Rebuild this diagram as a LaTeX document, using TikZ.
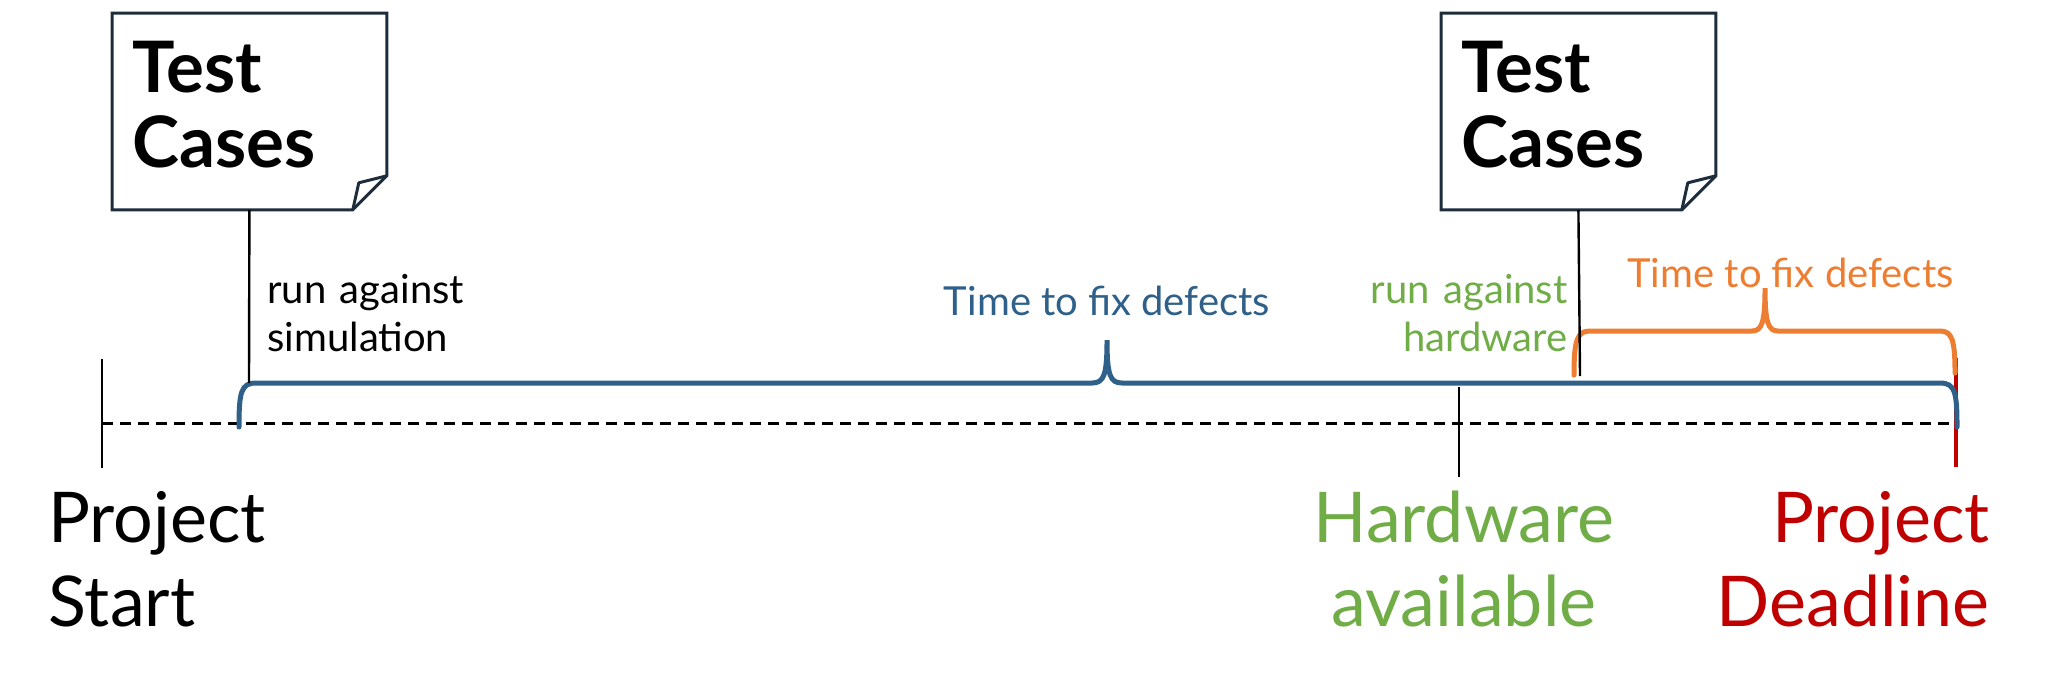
\documentclass[tikz,border=0pt]{standalone}
\usepackage{fontspec}
\setmainfont{Lato}
\usetikzlibrary{calc}
\usetikzlibrary{positioning}

\definecolor{fixblue}{HTML}{2E6089}
\definecolor{hwgreen}{HTML}{70AD47}
\definecolor{fixorange}{HTML}{ED7D31}
\definecolor{deadred}{HTML}{C00000}
\definecolor{noteline}{HTML}{1E2D3C}

\tikzset{
  note/.style={minimum width=137pt, minimum height=98pt, inner xsep=10pt, inner ysep=0pt,
    text width=117pt, align=left, text depth=45pt,
    font=\fontsize{35.5}{37.5}\selectfont\bfseries},
  biglabel/.style={inner sep=0pt, text width=180pt, font=\fontsize{35}{42}\selectfont},
  smalllabel/.style={inner sep=0pt, font=\fontsize{20}{24}\selectfont},
  tick/.style={line width=1.3pt},
  link/.style={line width=1.2pt},
  bracepath/.style={line width=2.5pt, line cap=round},
}

\begin{document}
\begin{tikzpicture}[x=0.5pt, y=-0.5pt]
  \useasboundingbox (0,0) rectangle (2048,692);

  % time line
  \coordinate (start) at (102,423);
  \coordinate (deadline) at (1956,423);
  \draw[line width=1.5pt, dash pattern=on 5.5pt off 3.5pt] (start) -- (deadline);
  \draw[tick] ($(start)+(0,-64)$) -- ($(start)+(0,45)$);
  \coordinate (hwtop) at (1459,387);
  \coordinate (hwbot) at (1459,477);
  \draw[tick] (hwtop) -- (hwbot);
  \draw[deadred, line width=2.4pt] ($(deadline)+(0,-65)$) -- ($(deadline)+(0,44)$);

  % test case notes
  \node[note, anchor=north west] (tc1) at (112,13) {Test\\Cases};
  \node[note, anchor=north west] (tc2) at (1441,13) {Test\\Cases};
  \foreach \n in {tc1,tc2} {
    \draw[noteline, line width=1.5pt]
      (\n.north west) -- (\n.north east) -- ($(\n.south east)+(0,-34)$)
      -- ($(\n.south east)+(-34,0)$) -- (\n.south west) -- cycle;
    \draw[noteline, line width=1.5pt, line join=round]
      ($(\n.south east)+(-34,0)$) -- ($(\n.south east)+(-28,-27)$) -- ($(\n.south east)+(0,-34)$);
  }

  % braces
  \draw[fixblue, bracepath] (239,427) .. controls (239,392) and (241,383) .. (256,383)
    -- (1092,383) .. controls (1104,383) and (1107,375) .. (1107,340)
    .. controls (1107,375) and (1110,383) .. (1122,383)
    -- (1940,383) .. controls (1955,383) and (1957,392) .. (1957,427);
  \draw[fixorange, bracepath] (1574,375) .. controls (1574,340) and (1577,331) .. (1590,331)
    -- (1752,331) .. controls (1762,331) and (1765,322) .. (1765,288)
    .. controls (1765,322) and (1768,331) .. (1778,331)
    -- (1940,331) .. controls (1952,331) and (1955,340) .. (1955,373);

  \coordinate (simrun) at (249,383);
  \coordinate (hwrun) at (1580,376);
  \draw[link] (tc1.south) -- (simrun);
  \draw[link] (tc2.south) -- (hwrun);

  % labels
  \node[smalllabel, text width=110pt, align=left, anchor=base west] (simtxt) at (267,303) {run against\\simulation};
  \node[smalllabel, fixblue, anchor=base] (fix1) at (1107,315) {Time to fix defects};
  \node[smalllabel, hwgreen, text width=110pt, align=right, anchor=base east] (hwtxt) at (1568,303) {run against\\hardware};
  \node[smalllabel, fixorange, anchor=base west] (fix2) at (1627,287) {Time to fix defects};

  \node[biglabel, align=left, anchor=base west] (starttxt) at (48,542) {Project\\Start};
  \node[biglabel, hwgreen, align=center, anchor=base] (hwavail) at (1464,542) {Hardware\\available};
  \node[biglabel, deadred, align=right, anchor=base east] (deadtxt) at (1990,542) {Project\\Deadline};
\end{tikzpicture}
\end{document}
